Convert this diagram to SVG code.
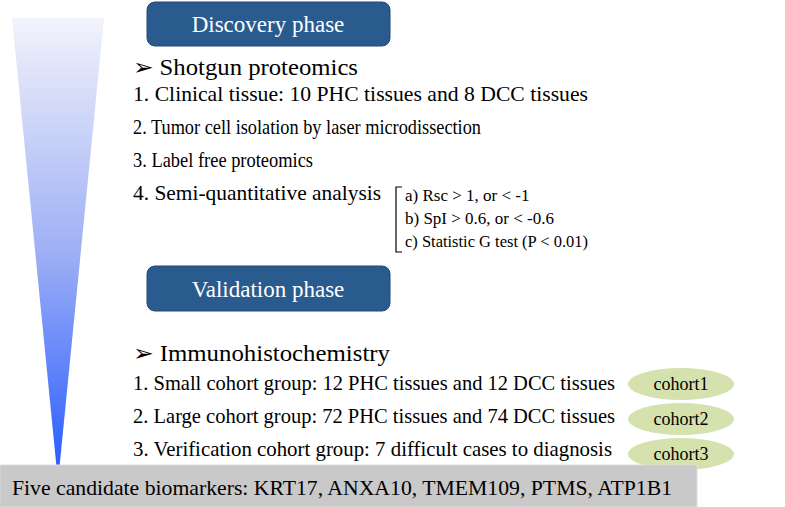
<svg xmlns="http://www.w3.org/2000/svg" width="785" height="507" viewBox="0 0 785 507" font-family="'Liberation Serif', 'Times New Roman', Times, serif">
<defs>
<linearGradient id="g" x1="0" y1="0" x2="0" y2="1">
<stop offset="0" stop-color="#f2f3fb"/>
<stop offset="0.5" stop-color="#9fb0f5"/>
<stop offset="1" stop-color="#2458ff"/>
</linearGradient>
<style>
text{font-family:'Liberation Serif','Times New Roman',Times,serif;fill:#000}
.t{font-size:21px}
.h{font-size:23px}
.s{font-size:17px}
.ph{font-size:23px;fill:#fff}
.pb{fill:#2a5b8f;stroke:#214a78}
.el{fill:#d5e2ae}
.c{font-size:18px}
</style>
</defs>
<polygon points="12,18 104,18 58,482" fill="url(#g)"/>
<g id="discovery">
<rect class="pb" x="147" y="2" width="243" height="44" rx="8"/>
<text class="ph" x="268" y="32" text-anchor="middle">Discovery phase</text>
</g>
<g id="shotgun">
<text class="h" x="133" y="75" textLength="225" lengthAdjust="spacingAndGlyphs">➢  Shotgun proteomics</text>
<text class="t" x="133" y="101" textLength="455" lengthAdjust="spacingAndGlyphs">1. Clinical tissue: 10 PHC tissues and 8 DCC tissues</text>
<text class="t" x="133" y="134" textLength="348" lengthAdjust="spacingAndGlyphs">2. Tumor cell isolation by laser microdissection</text>
<text class="t" x="133" y="167" textLength="180" lengthAdjust="spacingAndGlyphs">3. Label free proteomics</text>
<text class="t" x="133" y="200" textLength="248" lengthAdjust="spacingAndGlyphs">4. Semi-quantitative analysis</text>
<path d="M402,187 H396 V252 H402" fill="none" stroke="#000" stroke-width="1.2"/>
<text class="s" x="405" y="201">a) Rsc &gt; 1, or &lt; -1</text>
<text class="s" x="405" y="224">b) SpI &gt; 0.6, or &lt; -0.6</text>
<text class="s" x="405" y="247" textLength="183" lengthAdjust="spacingAndGlyphs">c) Statistic G test (P  &lt; 0.01)</text>
</g>
<g id="validation">
<rect class="pb" x="147" y="266" width="243" height="45" rx="8"/>
<text class="ph" x="268" y="297" text-anchor="middle">Validation phase</text>
</g>
<g id="ihc">
<text class="h" x="133" y="361" textLength="257" lengthAdjust="spacingAndGlyphs">➢  Immunohistochemistry</text>
<text class="t" x="133" y="390" textLength="482" lengthAdjust="spacingAndGlyphs">1. Small cohort group: 12 PHC tissues and 12 DCC tissues</text>
<text class="t" x="133" y="423" textLength="482" lengthAdjust="spacingAndGlyphs">2. Large cohort group: 72 PHC tissues and 74 DCC tissues</text>
<text class="t" x="133" y="456" textLength="479" lengthAdjust="spacingAndGlyphs">3. Verification cohort group: 7 difficult cases to diagnosis</text>
</g>
<g id="cohort1"><ellipse class="el" cx="681" cy="384" rx="53" ry="16"/><text class="c" x="681" y="390" text-anchor="middle">cohort1</text></g>
<g id="cohort2"><ellipse class="el" cx="681" cy="419" rx="53" ry="16"/><text class="c" x="681" y="425" text-anchor="middle">cohort2</text></g>
<g id="cohort3"><ellipse class="el" cx="681" cy="454" rx="53" ry="16"/><text class="c" x="681" y="460" text-anchor="middle">cohort3</text></g>
<g id="connectors"></g>
<g id="biomarkers">
<rect x="0" y="465" width="697" height="42" fill="#c9c9c9" stroke="#dcdcdc"/>
<text class="t" x="12" y="495" textLength="660" lengthAdjust="spacingAndGlyphs">Five candidate biomarkers: KRT17, ANXA10, TMEM109, PTMS, ATP1B1</text>
</g>
</svg>
